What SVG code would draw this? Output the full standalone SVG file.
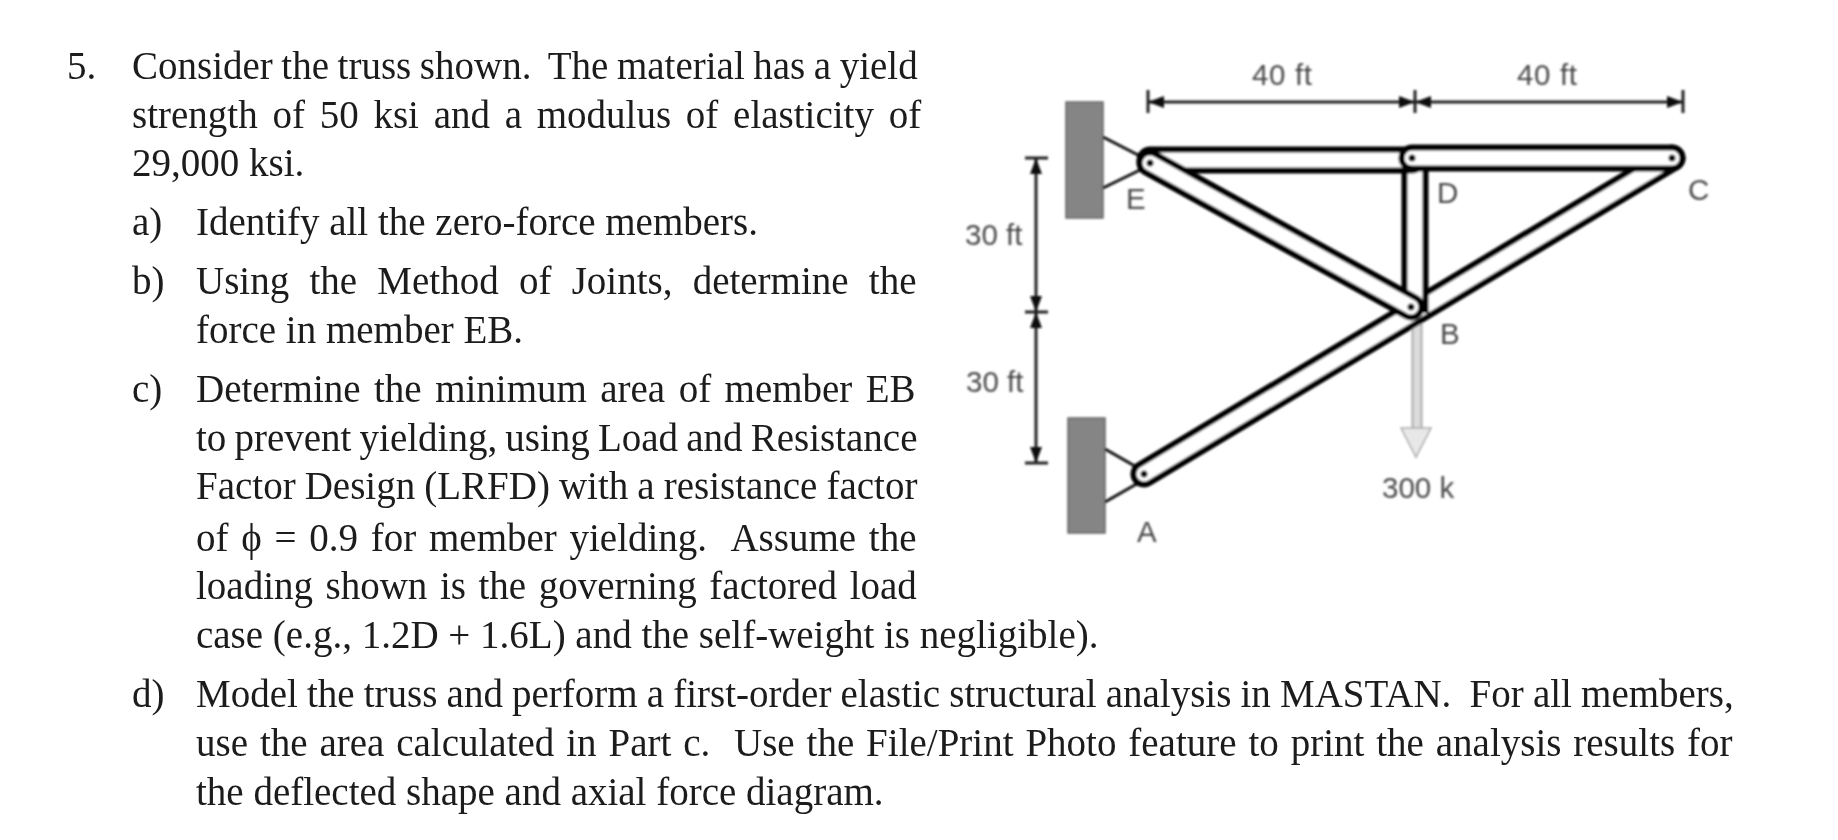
<svg xmlns="http://www.w3.org/2000/svg" width="1838" height="840" viewBox="0 0 1838 840">
<style>
.t{font-family:"Liberation Serif","Times New Roman",serif;font-size:39px;fill:#1a1a1a;white-space:pre}
.l{font-family:"Liberation Sans",Arial,sans-serif;font-size:29.5px;fill:#4a4a4a}
.o{fill:none;stroke:#000;stroke-width:27;stroke-linecap:round}
.i{fill:none;stroke:#fff;stroke-width:15;stroke-linecap:round}
.b{stroke-linecap:butt}
.d{fill:none;stroke:#222;stroke-width:3}
.w{fill:#858585;stroke:#666;stroke-width:1.5}
.s{fill:none;stroke:#111;stroke-width:3}
.p{fill:#111}
</style>
<defs>
<marker id="a" markerWidth="18" markerHeight="14" refX="16" refY="6" orient="auto-start-reverse" markerUnits="userSpaceOnUse"><path d="M0 0L16 6L0 12Z" fill="#111"/></marker>
<filter id="soft" x="-5%" y="-5%" width="110%" height="110%"><feGaussianBlur stdDeviation="0.8"/></filter>
<filter id="softer" x="-2%" y="-2%" width="104%" height="104%"><feGaussianBlur stdDeviation="0.4"/></filter>
</defs>
<g id="text" filter="url(#softer)">
<text class="t" x="67" y="79">5.</text>
<text class="t" x="132" y="79" word-spacing="-1.2">Consider the truss shown.  The material has a yield</text>
<text class="t" x="132" y="128" word-spacing="5">strength of 50 ksi and a modulus of elasticity of</text>
<text class="t" x="132" y="176">29,000 ksi.</text>
<text class="t" x="132" y="235">a)</text><text class="t" x="196" y="235">Identify all the zero-force members.</text>
<text class="t" x="132" y="294">b)</text><text class="t" x="196" y="294" word-spacing="10.5">Using the Method of Joints, determine the</text>
<text class="t" x="196" y="343">force in member EB.</text>
<text class="t" x="132" y="402">c)</text><text class="t" x="196" y="402" word-spacing="3.7">Determine the minimum area of member EB</text>
<text class="t" x="196" y="451" word-spacing="-1.6">to prevent yielding, using Load and Resistance</text>
<text class="t" x="196" y="499" word-spacing="-0.7">Factor Design (LRFD) with a resistance factor</text>
<text class="t" x="196" y="551" word-spacing="3">of ϕ = 0.9 for member yielding.  Assume the</text>
<text class="t" x="196" y="599" word-spacing="2.8">loading shown is the governing factored load</text>
<text class="t" x="196" y="648">case (e.g., 1.2D + 1.6L) and the self-weight is negligible).</text>
<text class="t" x="132" y="707">d)</text><text class="t" x="196" y="707" word-spacing="-0.6">Model the truss and perform a first-order elastic structural analysis in MASTAN.  For all members,</text>
<text class="t" x="196" y="756" word-spacing="2.15">use the area calculated in Part c.  Use the File/Print Photo feature to print the analysis results for</text>
<text class="t" x="196" y="805">the deflected shape and axial force diagram.</text>
</g>
<g filter="url(#soft)">
<g id="dimensions">
<path class="d" d="M1148 90V113M1415 90V113M1683 90V113M1025 158H1048M1025 312H1048M1025 463H1048"/>
<path class="d" d="M1148 102H1415" marker-start="url(#a)" marker-end="url(#a)"/>
<path class="d" d="M1415 102H1683" marker-start="url(#a)" marker-end="url(#a)"/>
<path class="d" d="M1036 158V312" marker-start="url(#a)" marker-end="url(#a)"/>
<path class="d" d="M1036 312V463" marker-start="url(#a)" marker-end="url(#a)"/>
<text class="l" x="1252" y="85" textLength="60">40 ft</text>
<text class="l" x="1517" y="85" textLength="60">40 ft</text>
<text class="l" x="965" y="245">30 ft</text>
<text class="l" x="966" y="392">30 ft</text>
</g>
<g id="supports">
<rect class="w" x="1066" y="102" width="37" height="116"/>
<rect class="w" x="1068" y="418" width="37" height="115"/>
<path class="s" d="M1103 137L1140 156M1103 188L1140 170"/>
<path class="s" d="M1105 449L1140 469M1105 502L1140 482"/>
</g>
<g id="load">
<path d="M1417 318V430" stroke="#aaa" stroke-width="11" fill="none"/>
<path d="M1417 318V430" stroke="#dcdcdc" stroke-width="7" fill="none"/>
<path d="M1401 428H1431L1416 457Z" fill="#e8e8e8" stroke="#aaa" stroke-width="1.5"/>
<text class="l" x="1382" y="498">300 k</text>
</g>
<g id="connectors">
<path class="o" d="M1144 474L1672 158"/><path class="i" d="M1144 474L1672 158"/>
<path class="o b" d="M1415 158V313"/><path class="i b" d="M1415 158V313"/>
<path class="o" d="M1150 160H1412"/><path class="i" d="M1150 160H1412"/>
<path class="o" d="M1150 163L1411 307"/><path class="i" d="M1150 163L1411 307"/>
<path class="o" d="M1412 158H1672"/><path class="i" d="M1412 158H1672"/>
</g>
<g id="node-E"><circle class="p" cx="1150" cy="163" r="3.5"/><text class="l" x="1126" y="209">E</text></g>
<g id="node-D"><circle class="p" cx="1412" cy="158" r="3.5"/><text class="l" x="1437" y="203">D</text></g>
<g id="node-C"><circle class="p" cx="1672" cy="158" r="3.5"/><text class="l" x="1688" y="200">C</text></g>
<g id="node-B"><circle class="p" cx="1411" cy="307" r="3.5"/><text class="l" x="1440" y="344">B</text></g>
<g id="node-A"><circle class="p" cx="1144" cy="474" r="3.5"/><text class="l" x="1137" y="542">A</text></g>
</g>
</svg>
